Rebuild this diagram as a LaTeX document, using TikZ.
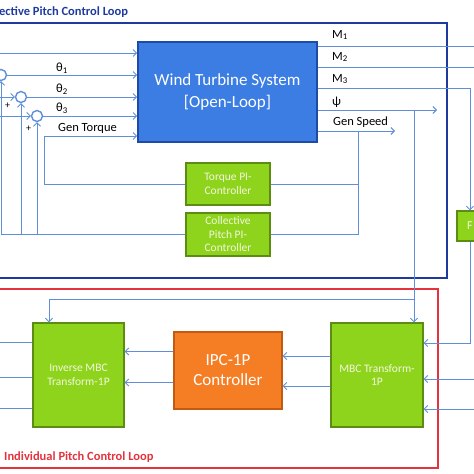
\documentclass[tikz,border=0pt]{standalone}
\usepackage{fontspec}
\setmainfont{Carlito}
\usetikzlibrary{arrows.meta, positioning}

\definecolor{sigline}{HTML}{5E8FD8}
\definecolor{wtfill}{HTML}{3B7DE3}
\definecolor{wtedge}{HTML}{1D4BA6}
\definecolor{cpcblue}{HTML}{1F3A9E}
\definecolor{ipcred}{HTML}{E5323C}
\definecolor{ctrlgreen}{HTML}{8FD41C}
\definecolor{ctrledge}{HTML}{5C8C12}
\definecolor{ipcorange}{HTML}{F57D24}
\definecolor{ipcedge}{HTML}{C45A12}
\definecolor{ctrltext}{HTML}{F2F7DC}

\begin{document}
\begin{tikzpicture}[x = 1pt, y = -1pt, >={Straight Barb[length = 3.5pt, width = 7pt]},
    sig/.style = {draw = sigline, line width = 0.9pt},
    lbl/.style = {font = \fontsize{12.5}{13}\selectfont, inner sep = 0pt, anchor = west},
    plant/.style = {draw = wtedge, line width = 1.6pt, fill = wtfill, text = white, align = center, font = \fontsize{17}{22}\selectfont},
    ctrl/.style = {draw = ctrledge, line width = 1.4pt, fill = ctrlgreen, text = ctrltext, align = center, inner sep = 0pt, font = \fontsize{11.5}{13.5}\selectfont},
    sum/.style = {circle, draw = sigline, line width = 1.4pt, fill = white, minimum size = 11pt, inner sep = 0pt}]
  \useasboundingbox (0,0) rectangle (474,474);

  \draw[cpcblue, line width = 2pt] (-10,23) rectangle (447,278);
  \draw[ipcred, line width = 2pt] (-10,289) rectangle (438,468);
  \node[anchor = west, inner sep = 0pt, text = cpcblue, font = \bfseries\fontsize{12.5}{13}\selectfont] (cpctitle) at (-1,12) {ective Pitch Control Loop};
  \node[anchor = west, inner sep = 0pt, text = ipcred, font = \bfseries\fontsize{12.5}{13}\selectfont] (ipctitle) at (4,457) {Individual Pitch Control Loop};

  \node[plant, minimum width = 179pt, minimum height = 100pt] (wt) at (227.5,92) {Wind Turbine System\\{}[Open-Loop]};
  \node[ctrl, minimum width = 84pt, minimum height = 42pt] (tpi) at (228,184) {Torque PI-\\Controller};
  \node[ctrl, minimum width = 84pt, minimum height = 43pt] (cpi) at (228,234.5) {Collective\\Pitch PI-\\Controller};
  \node[ctrl, minimum width = 92pt, minimum height = 104pt] (mbc) at (377,375) {MBC Transform-\\1P};
  \node[ctrl, minimum width = 91pt, minimum height = 104pt] (imbc) at (78.5,375) {Inverse MBC\\Transform-1P};
  \node[draw = ipcedge, line width = 1.4pt, fill = ipcorange, text = white, align = center, font = \fontsize{17}{20}\selectfont, minimum width = 108pt, minimum height = 77pt] (ipc) at (228,370.5) {IPC-1P\\Controller};
  \node[ctrl, minimum width = 26pt, minimum height = 30pt, font = \fontsize{12}{13}\selectfont] (filt) at (470,226) {F};

  \node[sum] (s1) at (1,75) {};
  \node[sum] (s2) at (21,97) {};
  \node[sum] (s3) at (37,116) {};
  \node[lbl, font = \fontsize{10}{11}\selectfont] (plus2) at (5,106) {+};
  \node[lbl, font = \fontsize{10}{11}\selectfont] (plus3) at (26,129) {+};

  \coordinate (win) at (0,53);
  \coordinate (th2in) at (0,97);
  \coordinate (th3in) at (0,116);
  \coordinate (gtk) at (44,136);
  \draw[sig, ->] (win) -- (wt.west |- win);
  \draw[sig, ->] (s1) -- (s1 -| wt.west);
  \draw[sig, ->] (s2) -- (s2 -| wt.west);
  \draw[sig, ->] (s3) -- (s3 -| wt.west);
  \draw[sig, ->] (th2in) -- (s2);
  \draw[sig, ->] (th3in) -- (s3);
  \draw[sig, ->] (cpi.west) -- (s1 |- cpi.west) -- (s1);
  \draw[sig, ->] (s2 |- cpi.west) -- (s2);
  \draw[sig, ->] (s3 |- cpi.west) -- (s3);
  \draw[sig, ->] (tpi.west) -| (gtk) -- (gtk -| wt.west);
  \node[lbl] (lth1) at (56,68) {θ\textsubscript{1}};
  \node[lbl] (lth2) at (56,89) {θ\textsubscript{2}};
  \node[lbl] (lth3) at (56,108) {θ\textsubscript{3}};
  \node[lbl] (lgtk) at (58,128) {Gen Torque};

  \coordinate (m1out) at (480,46);
  \coordinate (m2out) at (480,67);
  \coordinate (m3turn) at (470,88);
  \coordinate (psiend) at (437,110);
  \coordinate (psidrop) at (414,110);
  \coordinate (psibr) at (414,299);
  \coordinate (gsend) at (395,131);
  \coordinate (gsdrop) at (358,131);
  \draw[sig] (wt.east |- m1out) -- (m1out);
  \draw[sig] (wt.east |- m2out) -- (m2out);
  \draw[sig, ->] (wt.east |- m3turn) -- (m3turn) -- (filt.north);
  \draw[sig, ->] (filt.south) |- (mbc.east |- 0,343);
  \draw[sig, ->] (wt.east |- psiend) -- (psiend);
  \draw[sig, ->] (psidrop) -- (psidrop |- mbc.north);
  \draw[sig, ->] (psibr) -| ([xshift = -29.5pt]imbc.north);
  \draw[sig, ->] (wt.east |- gsend) -- (gsend);
  \draw[sig] (gsdrop) |- (cpi.east);
  \draw[sig] (tpi.east) -- (tpi.east -| gsdrop);
  \node[lbl] (lm1) at (332,35) {M\textsubscript{1}};
  \node[lbl] (lm2) at (332,57) {M\textsubscript{2}};
  \node[lbl] (lm3) at (332,79) {M\textsubscript{3}};
  \node[lbl] (lpsi) at (332,102) {ψ};
  \node[lbl] (lgs) at (333,122) {Gen Speed};

  \coordinate (mbcin2) at (480,379);
  \coordinate (mbcin3) at (480,409);
  \coordinate (th1out) at (-5,342);
  \coordinate (th2out) at (-5,377);
  \coordinate (th3out) at (-5,408);
  \draw[sig, ->] (mbcin2) -- (mbcin2 -| mbc.east);
  \draw[sig, ->] (mbcin3) -- (mbcin3 -| mbc.east);
  \draw[sig, ->] ([yshift = 19pt]mbc.west) -- ([yshift = 19pt]mbc.west -| ipc.east);
  \draw[sig, ->] ([yshift = -11pt]mbc.west) -- ([yshift = -11pt]mbc.west -| ipc.east);
  \draw[sig, ->] ([yshift = 19pt]ipc.west) -- ([yshift = 19pt]ipc.west -| imbc.east);
  \draw[sig, ->] ([yshift = -12pt]ipc.west) -- ([yshift = -12pt]ipc.west -| imbc.east);
  \draw[sig] (imbc.west |- th1out) -- (th1out);
  \draw[sig] (imbc.west |- th2out) -- (th2out);
  \draw[sig] (imbc.west |- th3out) -- (th3out);
\end{tikzpicture}
\end{document}
